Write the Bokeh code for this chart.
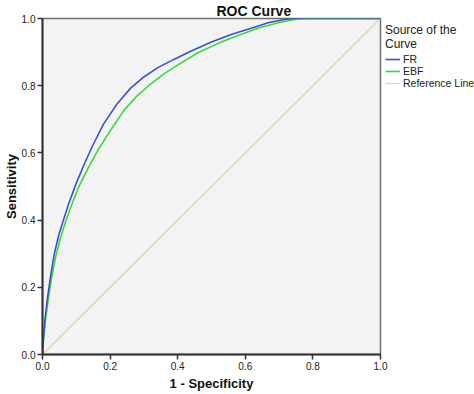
from bokeh.plotting import figure
from bokeh.models import Legend, Range1d, FixedTicker, Title
from bokeh.embed import file_html
from bokeh.resources import INLINE

# ---- data ----
fr_fpr = [0.0, 0.003, 0.008, 0.015, 0.025, 0.035, 0.048, 0.062, 0.078, 0.10, 0.125,
          0.15, 0.18, 0.22, 0.26, 0.30, 0.34, 0.39, 0.44, 0.50, 0.56, 0.62, 0.67,
          0.72, 0.75, 1.0]
fr_tpr = [0.0, 0.05, 0.11, 0.17, 0.24, 0.30, 0.355, 0.40, 0.45, 0.51, 0.57,
          0.625, 0.685, 0.745, 0.792, 0.826, 0.853, 0.879, 0.903, 0.93, 0.953, 0.972, 0.988,
          0.998, 1.0, 1.0]

ebf_fpr = [0.0, 0.003, 0.009, 0.017, 0.028, 0.04, 0.054, 0.07, 0.088, 0.11, 0.135,
           0.165, 0.20, 0.24, 0.28, 0.32, 0.36, 0.41, 0.46, 0.52, 0.58, 0.64, 0.70,
           0.75, 0.78, 1.0]
ebf_tpr = [0.0, 0.045, 0.105, 0.165, 0.235, 0.295, 0.35, 0.40, 0.45, 0.505, 0.555,
           0.61, 0.665, 0.725, 0.77, 0.805, 0.836, 0.868, 0.898, 0.926, 0.95, 0.972, 0.988,
           0.998, 1.0, 1.0]

ref_x = [0.0, 1.0]
ref_y = [0.0, 1.0]

ticks = [0.0, 0.2, 0.4, 0.6, 0.8, 1.0]
tick_labels = {0.0: "0.0", 0.2: "0.2", 0.4: "0.4", 0.6: "0.6", 0.8: "0.8", 1.0: "1.0"}

FONT = "Liberation Sans"

p = figure(frame_width=338, frame_height=336, output_backend="svg", toolbar_location=None,
           x_range=Range1d(0, 1), y_range=Range1d(0, 1),
           min_border_left=0, min_border_right=0, min_border_top=0, min_border_bottom=0)
p.background_fill_color = "#f3f3f3"
p.border_fill_color = "white"
p.outline_line_color = "#707070"
p.outline_line_width = 1.5
p.grid.visible = False

title = Title(text="ROC Curve", align="left", text_font=FONT, text_font_size="14px",
              text_font_style="bold", text_color="#111111", standoff=0, offset=174)
p.add_layout(title, "above")

for ax in (p.xaxis, p.yaxis):
    ax.ticker = FixedTicker(ticks=ticks)
    ax.major_label_overrides = tick_labels
    ax.axis_line_color = "#333333"
    ax.axis_line_width = 2
    ax.major_tick_line_color = "#333333"
    ax.major_tick_line_width = 1.5
    ax.major_tick_out = 5
    ax.major_tick_in = 0
    ax.minor_tick_line_color = None
    ax.major_label_text_font = FONT
    ax.major_label_text_font_size = "10px"
    ax.major_label_text_color = "#222222"
    ax.major_label_standoff = 2
    ax.axis_label_text_font = FONT
    ax.axis_label_text_font_size = "13px"
    ax.axis_label_text_font_style = "bold"
    ax.axis_label_text_color = "#111111"

p.xaxis.axis_label = "1 - Specificity"
p.xaxis.axis_label_standoff = 3
p.yaxis.axis_label = "Sensitivity"
p.yaxis.axis_label_standoff = 0

r_ref = p.line(ref_x, ref_y, line_color="#d9dba6", line_width=1.3)
r_ebf = p.line(ebf_fpr, ebf_tpr, line_color="#3ad83a", line_width=1.6)
r_fr = p.line(fr_fpr, fr_tpr, line_color="#3a52c8", line_width=1.6)

legend = Legend(items=[("FR", [r_fr]), ("EBF", [r_ebf]), ("Reference Line", [r_ref])],
                location="top_left", title="Source of the\nCurve")
legend.border_line_color = None
legend.background_fill_alpha = 0
legend.padding = 0
legend.margin = 5
legend.spacing = 0
legend.glyph_width = 15
legend.glyph_height = 10
legend.label_height = 10
legend.label_standoff = 3
legend.label_text_font = FONT
legend.label_text_font_size = "10.5px"
legend.label_text_color = "#222222"
legend.title_text_font = FONT
legend.title_text_font_size = "12px"
legend.title_text_font_style = "normal"
legend.title_text_color = "#222222"
legend.title_text_line_height = 1.0
legend.title_standoff = 2
p.add_layout(legend, "right")

open("out.html", "w").write(file_html(p, INLINE))
